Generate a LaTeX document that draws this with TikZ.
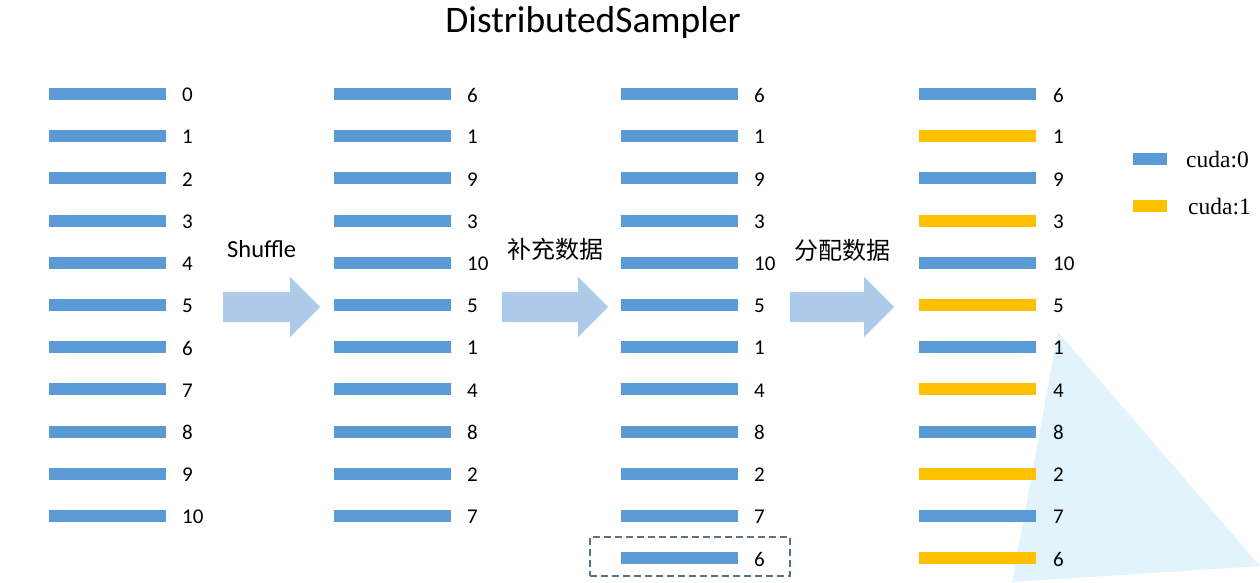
\documentclass[tikz,border=0pt]{standalone}
\usepackage{fontspec}
\setmainfont{Carlito}
\newfontfamily\cjkf{Noto Sans CJK SC}
\newfontfamily\serff{Liberation Serif}
\usetikzlibrary{shapes.arrows}
\definecolor{barblue}{HTML}{5B9BD5}
\definecolor{barorange}{HTML}{FFC000}
\definecolor{arrowblue}{HTML}{ADCAE8}
\definecolor{triblue}{HTML}{E2F3FB}
\definecolor{dashgray}{HTML}{5A7385}
\begin{document}
\begin{tikzpicture}[x=1pt,y=-1pt,
  bar/.style={fill=#1,draw=none,minimum width=117pt,minimum height=12pt,inner sep=0pt,anchor=west},
  num/.style={anchor=west,inner sep=0pt,font=\fontsize{21}{21}\selectfont},
  bigarrow/.style={single arrow,fill=arrowblue,draw=none,inner sep=15pt,single arrow head extend=15pt,single arrow tip angle=90,minimum height=#1,anchor=tail},
  steplabel/.style={anchor=west,inner sep=0pt,font=\fontsize{24.5}{24.5}\selectfont},
  cjklabel/.style={anchor=west,inner sep=0pt,font=\cjkf\fontsize{24}{24}\selectfont},
  legtext/.style={anchor=west,inner sep=0pt,font=\serff\fontsize{23.5}{23.5}\selectfont}]
\useasboundingbox (0,0) rectangle (1260,582);
\fill[white] (0,0) rectangle (1260,582);
% light triangle
\fill[triblue] (1058,332) -- (1012,582) -- (1260,566) -- cycle;
% title
\node[inner sep=0pt,font=\fontsize{37.5}{37.5}\selectfont] (title) at (593,22) {DistributedSampler};
% column 1
\foreach \v [count=\i] in {0,1,2,3,4,5,6,7,8,9,10} {
  \node[bar=barblue] (a\i) at (49,{94+42.2*(\i-1)}) {};
  \node[num] (la\i) at (182,{95+42.2*(\i-1)}) {\v};
}
% column 2
\foreach \v [count=\i] in {6,1,9,3,10,5,1,4,8,2,7} {
  \node[bar=barblue] (b\i) at (334,{94+42.2*(\i-1)}) {};
  \node[num] (lb\i) at (467,{95+42.2*(\i-1)}) {\v};
}
% column 3
\foreach \v [count=\i] in {6,1,9,3,10,5,1,4,8,2,7,6} {
  \node[bar=barblue] (c\i) at (621,{94+42.2*(\i-1)}) {};
  \node[num] (lc\i) at (754,{95+42.2*(\i-1)}) {\v};
}
% column 4
\foreach \v/\c [count=\i] in {6/barblue,1/barorange,9/barblue,3/barorange,10/barblue,5/barorange,1/barblue,4/barorange,8/barblue,2/barorange,7/barblue,6/barorange} {
  \node[bar=\c] (d\i) at (919,{94+42.2*(\i-1)}) {};
  \node[num] (ld\i) at (1053,{95+42.2*(\i-1)}) {\v};
}
% dashed box around extra item
\node[draw=dashgray,dash pattern=on 7pt off 4pt,line width=1.4pt,minimum width=200pt,minimum height=39pt,inner sep=0pt] (extra) at (690,556.5) {};
% arrows
\node[bigarrow=97pt] (arr1) at (223,307) {};
\node[bigarrow=106pt] (arr2) at (502,307) {};
\node[bigarrow=104pt] (arr3) at (790,307) {};
\node[steplabel] (l1) at (227,249) {Shuffle};
\node[cjklabel] (l2) at (507,249) {补充数据};
\node[cjklabel] (l3) at (794,250) {分配数据};
% legend
\node[fill=barblue,minimum width=34pt,minimum height=12pt,inner sep=0pt] (leg0) at (1150,159) {};
\node[legtext] (legt0) at (1186,160) {cuda:0};
\node[fill=barorange,minimum width=34pt,minimum height=12pt,inner sep=0pt] (leg1) at (1150,206) {};
\node[legtext] (legt1) at (1188,207) {cuda:1};
\end{tikzpicture}
\end{document}
